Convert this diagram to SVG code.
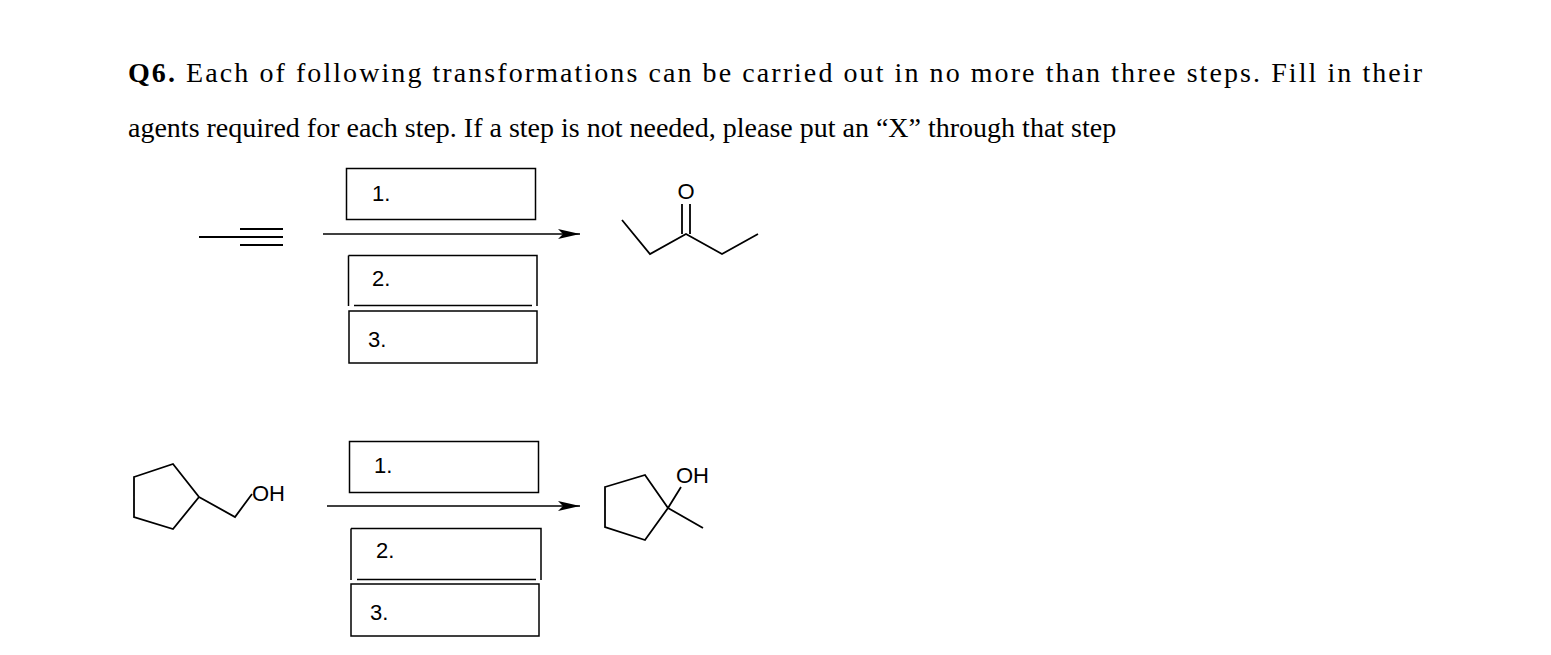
<svg xmlns="http://www.w3.org/2000/svg" width="1551" height="655" viewBox="0 0 1551 655">
<style>
.t{font-family:"Liberation Serif",serif;font-size:28px;fill:#000}
.l{font-family:"Liberation Sans",sans-serif;font-size:22px;fill:#000}
.b{fill:none;stroke:#000;stroke-width:1.5}
.m{fill:none;stroke:#000;stroke-width:1.8;stroke-linejoin:miter}
</style>
<defs><marker id="ah" markerWidth="22" markerHeight="10" refX="22" refY="5" orient="auto" markerUnits="userSpaceOnUse"><path d="M0,0 L22,5 L0,10 L5,5 z" fill="#000"/></marker></defs>
<rect width="1551" height="655" fill="#fff"/>
<text class="t" x="128" y="82" textLength="1294" lengthAdjust="spacing"><tspan font-weight="bold">Q6.</tspan> Each of following transformations can be carried out in no more than three steps. Fill in their</text>
<text class="t" x="128" y="137">agents required for each step. If a step is not needed, please put an “X” through that step</text>
<g id="alkyne"><path class="m" d="M199,237 H240 M240,229 H283 M240,237 H283 M240,245 H283"/></g>
<g id="ketone"><path class="m" d="M622,220 L650,254 L686,234 L722,254 L758,234 M682,234 V204 M690,234 V204"/><text class="l" x="686" y="199" text-anchor="middle">O</text></g>
<g id="box1a"><rect class="b" x="346.5" y="168.5" width="189" height="51"/><text class="l" x="372" y="201">1.</text></g>
<g id="box2a"><path class="b" d="M348.5,255.5 H537 V306 M348.5,255.5 V306 M354,305.5 H532"/><text class="l" x="372" y="286">2.</text></g>
<g id="box3a"><rect class="b" x="349" y="311" width="188" height="52"/><text class="l" x="368" y="347">3.</text></g>
<g id="alcohol"><path class="m" d="M134,477 L173,464 L199,497 L173,529 L134,517 Z M199,497 L235,517 L252,494"/><text class="l" x="252" y="501">OH</text></g>
<g id="product"><path class="m" d="M605,487 L645,475 L668,508 L645,540 L605,527 Z M668,508 L703,528 M668,508 L681,487"/><text class="l" x="676" y="483">OH</text></g>
<g id="box1b"><rect class="b" x="349.5" y="441.5" width="189" height="51"/><text class="l" x="374" y="473">1.</text></g>
<g id="box2b"><path class="b" d="M351,528.5 H541 V580 M351,528.5 V580 M357,579.5 H536"/><text class="l" x="376" y="558">2.</text></g>
<g id="box3b"><rect class="b" x="351" y="584" width="188" height="52"/><text class="l" x="370" y="620">3.</text></g>
<g id="connectors">
<line x1="323" y1="234" x2="580" y2="234" stroke="#000" stroke-width="1.5" marker-end="url(#ah)"/>
<line x1="327" y1="506" x2="580" y2="506" stroke="#000" stroke-width="1.5" marker-end="url(#ah)"/>
</g>
</svg>
